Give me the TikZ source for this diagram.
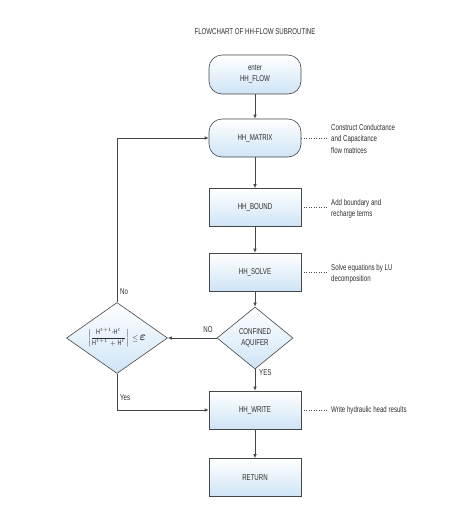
\documentclass[tikz,border=0pt]{standalone}
\usepackage{amsmath}
\usepackage{fontspec}
\setmainfont{Liberation Sans}[FakeStretch=0.72]
\usetikzlibrary{shapes.geometric,arrows.meta}
\definecolor{linec}{RGB}{70,70,70}
\definecolor{boxbot}{RGB}{206,228,246}
\definecolor{txt}{RGB}{45,45,45}
\begin{document}
\begin{tikzpicture}[x=1pt,y=-1pt,
  lbl/.style={font=\fontsize{8.5}{10}\selectfont, text=txt, inner sep=1pt},
  box/.style={draw=linec, line width=0.6pt, top color=white, bottom color=boxbot,
    minimum width=92pt, minimum height=38pt, inner sep=0pt, align=center,
    font=\fontsize{8.5}{11}\selectfont, text=txt},
  rbox/.style={box, rounded corners=13pt},
  dia/.style={diamond, draw=linec, line width=0.6pt, top color=white, bottom color=boxbot,
    inner sep=0pt, align=center, font=\fontsize{8.5}{11}\selectfont, text=txt},
  note/.style={anchor=west, align=left, font=\fontsize{8.5}{11.5}\selectfont, text=txt, inner sep=0pt},
  conn/.style={draw=linec, line width=0.7pt, -{Latex[length=4pt,width=3.5pt]}},
  dots/.style={draw=linec, line width=0.5pt, dotted}
]
\useasboundingbox (0,0) rectangle (474,525);
\node[lbl] (title) at (255,32) {FLOWCHART OF HH-FLOW SUBROUTINE};

\node[rbox, minimum height=39pt] (enter) at (255,74.5) {enter\\HH\_FLOW};
\node[rbox] (matrix) at (255,138) {HH\_MATRIX};
\node[box] (bound) at (255,207.5) {HH\_BOUND};
\node[box] (solve) at (255,272) {HH\_SOLVE};
\node[dia, minimum width=76pt, minimum height=62pt, shape aspect=1.22] (conf) at (255,338) {CONFINED\\AQUIFER};
\node[dia, minimum width=101pt, minimum height=71pt, shape aspect=1.42] (conv) at (117,338)
  {\fontsize{7.5}{8}\selectfont$\left|\dfrac{\text{H}^{t+1}\text{-H}^{t}}{\text{H}^{t+1}+\text{H}^{t}}\right|$\ \ $\le$\,{\fontsize{12}{12}\selectfont$\boldsymbol{\varepsilon}$}};
\node[box] (write) at (255,410) {HH\_WRITE};
\node[box] (ret) at (255,477.5) {RETURN};

\draw[conn] (enter) -- (matrix);
\draw[conn] (matrix) -- (bound);
\draw[conn] (bound) -- (solve);
\draw[conn] (solve) -- (conf);
\draw[conn] (conf) -- (write);
\draw[conn] (write) -- (ret);
\draw[conn] (conf.west) -- (conv.east);
\draw[conn] (conv.north) |- (matrix.west);
\draw[conn] (conv.south) |- (write.west);

\node[lbl, anchor=south] (no1) at (208,334) {NO};
\node[lbl, anchor=west] (yes1) at (258,373) {YES};
\node[lbl, anchor=west] (no2) at (119,292) {No};
\node[lbl, anchor=west] (yes2) at (119,398) {Yes};

\coordinate (d1) at (327,138);
\coordinate (d2) at (327,207.5);
\coordinate (d3) at (327,272);
\coordinate (d4) at (327,410);
\draw[dots] (matrix.east) -- (d1);
\draw[dots] (bound.east) -- (d2);
\draw[dots] (solve.east) -- (d3);
\draw[dots] (write.east) -- (d4);
\node[note] (n1) at (331,138.5) {Construct Conductance\\and Capacitance\\flow matrices};
\node[note] (n2) at (331,209) {Add boundary and\\recharge terms};
\node[note] (n3) at (331,274) {Solve equations by LU\\decomposition};
\node[note] (n4) at (331,410) {Write hydraulic head results};
\end{tikzpicture}
\end{document}
